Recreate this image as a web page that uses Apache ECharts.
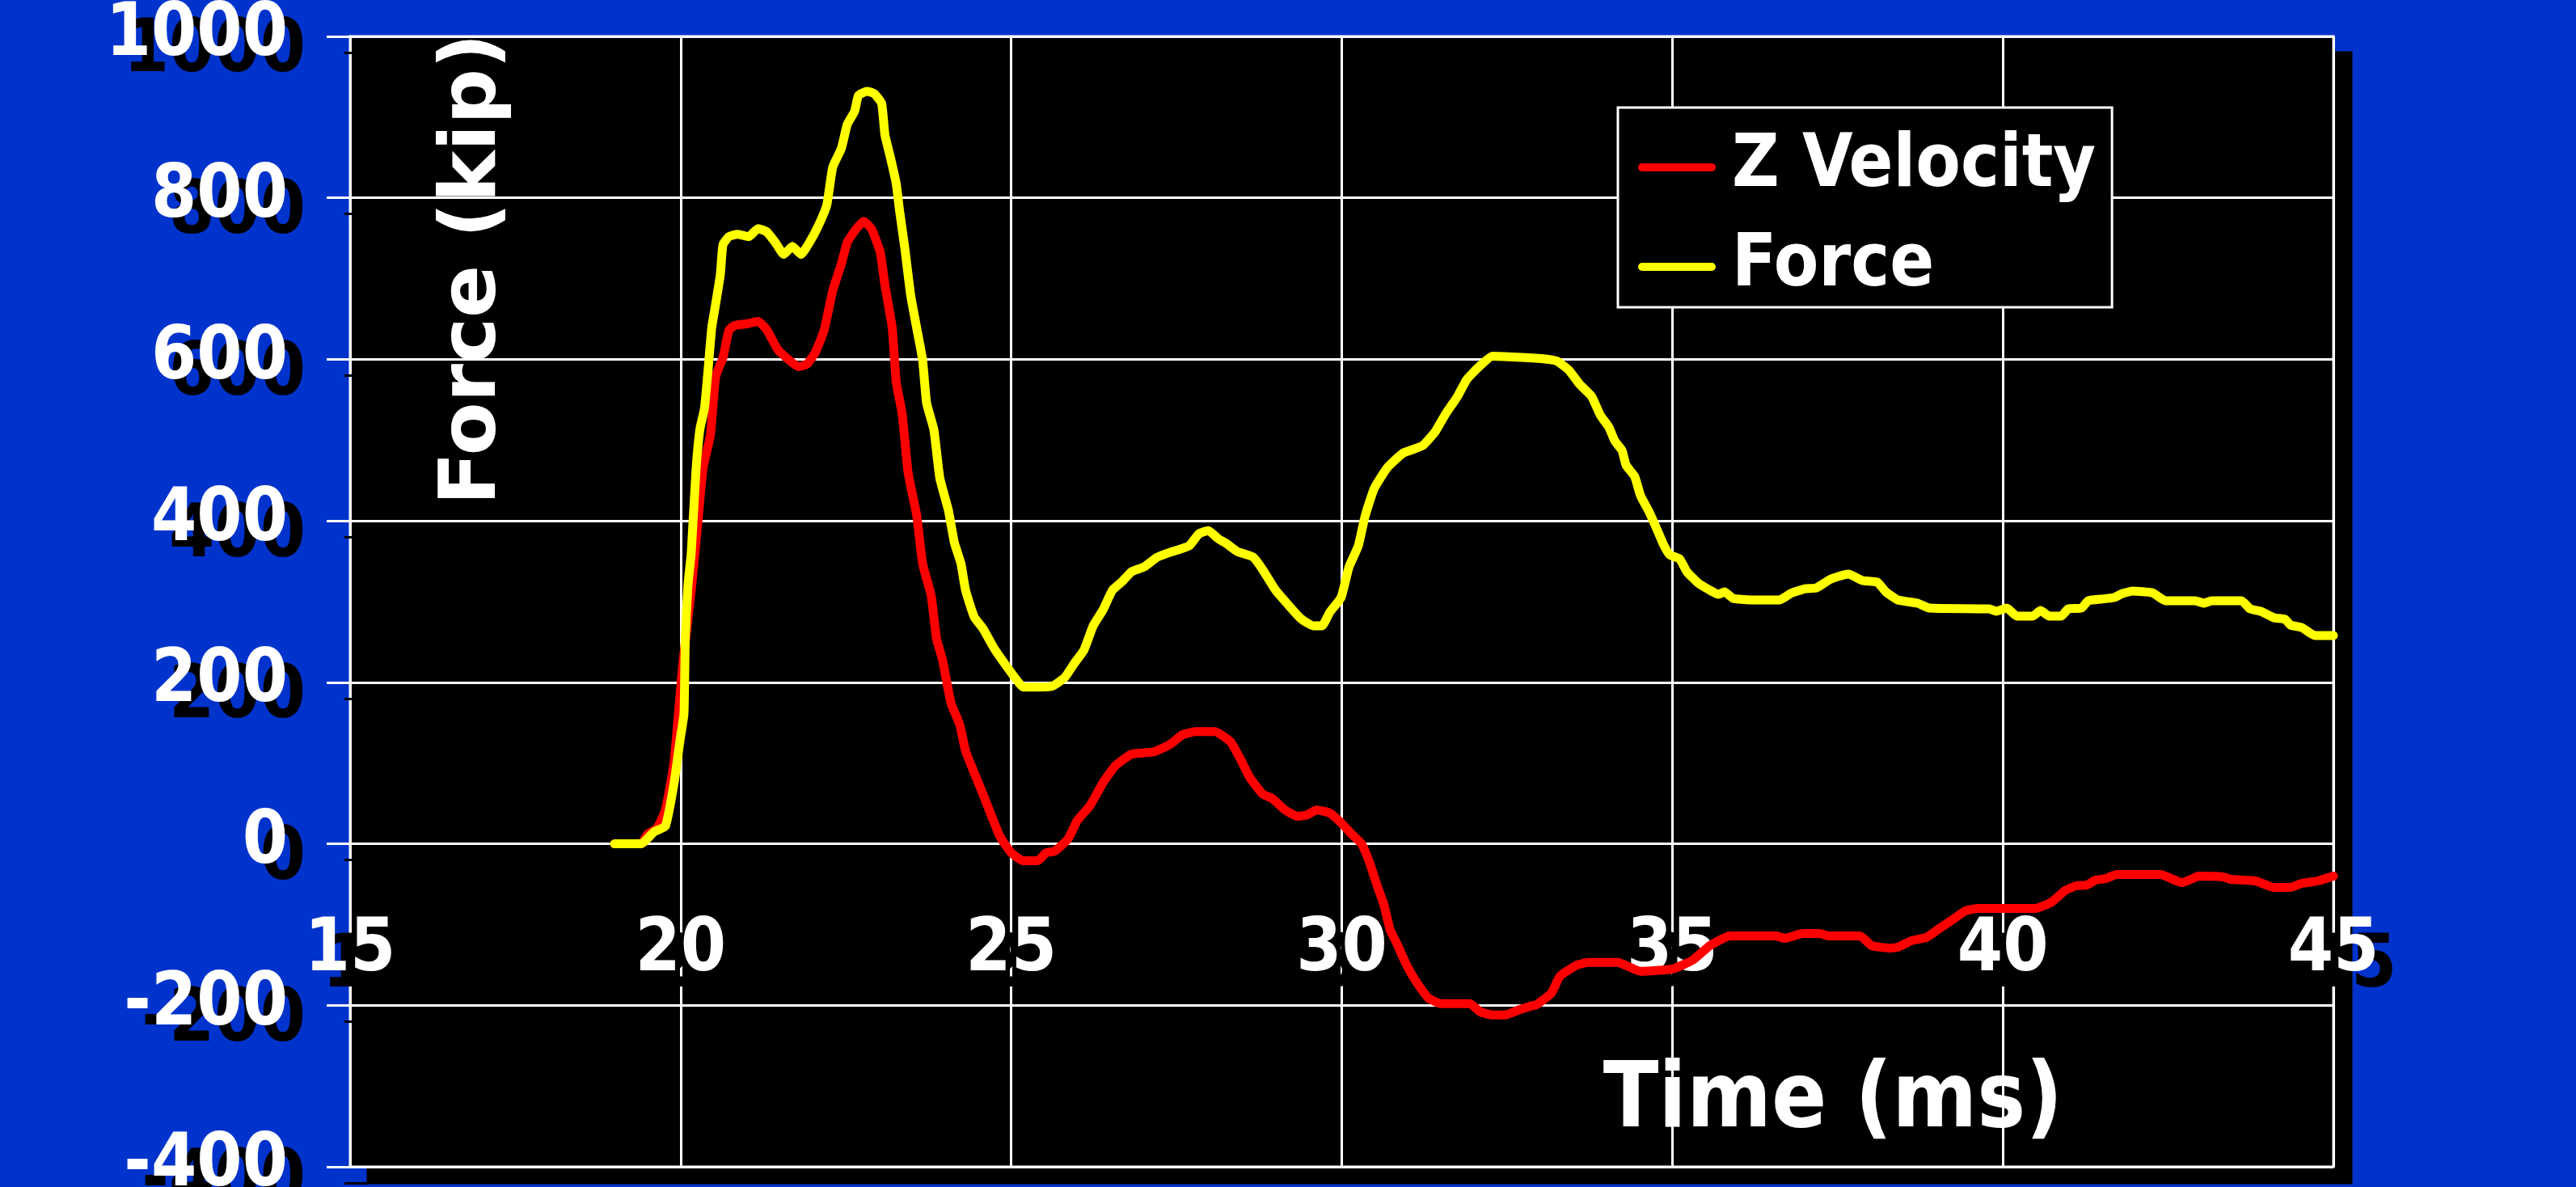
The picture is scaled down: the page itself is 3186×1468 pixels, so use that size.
<!DOCTYPE html>
<html>
<head>
<meta charset="utf-8">
<title>Force and Z Velocity vs Time</title>
<script src="https://cdn.jsdelivr.net/npm/echarts@6.0.0/dist/echarts.min.js"></script>
<style>
  html, body { margin: 0; padding: 0; background: #0033cc; }
  #main { width: 3186px; height: 1468px; }
</style>
</head>
<body>
<div id="main"></div>
<script>
// values: time in ms, value in kip
var velTime = [19.0, 19.4, 19.5, 19.64, 19.77, 19.9, 20.03, 20.16, 20.27, 20.34, 20.45, 20.53, 20.64, 20.73, 20.82, 20.99,
    21.17, 21.3, 21.47, 21.6, 21.78, 21.91, 22.04, 22.17, 22.3, 22.43, 22.52, 22.65, 22.77, 22.89, 23.02, 23.09,
    23.2, 23.26, 23.35, 23.44, 23.57, 23.66, 23.79, 23.87, 23.96, 24.09, 24.22, 24.31, 24.44, 24.57, 24.7, 24.83,
    25.0, 25.18, 25.4, 25.53, 25.66, 25.86, 26.0, 26.19, 26.39, 26.58, 26.82, 27.16, 27.4, 27.59, 27.79, 28.08,
    28.32, 28.46, 28.61, 28.8, 28.95, 29.14, 29.33, 29.48, 29.62, 29.82, 29.99, 30.15, 30.3, 30.42, 30.54, 30.64,
    30.73, 30.83, 30.98, 31.12, 31.31, 31.51, 31.94, 32.09, 32.28, 32.47, 32.67, 32.86, 32.95, 33.17, 33.3, 33.56,
    33.73, 34.17, 34.52, 35.0, 35.31, 35.57, 35.87, 36.57, 36.7, 36.97, 37.23, 37.36, 37.84, 38.01, 38.28, 38.41,
    38.62, 38.84, 39.02, 39.24, 39.43, 39.63, 40.49, 40.74, 40.94, 41.11, 41.27, 41.4, 41.56, 41.72, 42.38, 42.71,
    42.87, 42.96, 43.33, 43.45, 43.82, 44.1, 44.35, 44.52, 44.76, 45.0];
var velValues = [0, 0, 12, 19, 42, 101, 221, 314, 407, 466, 506, 579, 602, 636, 642, 644,
    647, 637, 612, 602, 591, 594, 609, 636, 685, 718, 745, 761, 771, 761, 732, 692,
    639, 572, 533, 460, 407, 347, 307, 254, 228, 174, 148, 115, 88, 62, 35, 9,
    -11, -21, -21, -11, -9, 6, 29, 47, 76, 97, 111, 114, 123, 135, 139, 139,
    126, 106, 82, 62, 56, 42, 34, 36, 42, 38, 26, 12, 0, -23, -53, -76,
    -106, -123, -150, -170, -191, -198, -198, -208, -212, -212, -206, -201, -199, -185, -164, -150,
    -147, -147, -158, -155, -144, -126, -114, -114, -117, -111, -111, -114, -114, -126, -129, -128,
    -120, -116, -106, -94, -83, -80, -80, -72, -58, -52, -51, -45, -43, -38, -38, -48,
    -43, -40, -41, -44, -46, -54, -54, -49, -46, -40];

var forceTime = [19.0, 19.4, 19.6, 19.77, 19.9, 19.99, 20.05, 20.07, 20.11, 20.16, 20.23, 20.29, 20.36, 20.42, 20.47, 20.51,
    20.6, 20.64, 20.73, 20.86, 21.03, 21.17, 21.3, 21.43, 21.56, 21.69, 21.82, 21.95, 22.08, 22.21, 22.3, 22.43,
    22.52, 22.63, 22.69, 22.82, 22.93, 23.04, 23.09, 23.17, 23.26, 23.31, 23.39, 23.48, 23.57, 23.66, 23.72, 23.83,
    23.92, 24.05, 24.14, 24.24, 24.31, 24.44, 24.57, 24.75, 24.92, 25.1, 25.18, 25.61, 25.81, 25.95, 26.1, 26.24,
    26.39, 26.53, 26.68, 26.82, 27.01, 27.21, 27.4, 27.69, 27.84, 27.98, 28.13, 28.27, 28.42, 28.66, 28.8, 29.0,
    29.19, 29.38, 29.57, 29.7, 29.82, 29.99, 30.11, 30.25, 30.35, 30.49, 30.69, 30.93, 31.22, 31.41, 31.56, 31.75,
    31.89, 32.09, 32.28, 33.03, 33.25, 33.43, 33.6, 33.78, 33.91, 34.04, 34.13, 34.24, 34.3, 34.43, 34.52, 34.65,
    34.78, 34.87, 34.96, 35.11, 35.22, 35.39, 35.57, 35.7, 35.79, 35.92, 36.18, 36.62, 36.79, 37.01, 37.18, 37.4,
    37.66, 37.88, 38.1, 38.23, 38.41, 38.71, 38.89, 39.79, 39.9, 40.06, 40.21, 40.45, 40.57, 40.7, 40.88, 40.99,
    41.19, 41.29, 41.48, 41.68, 41.81, 41.97, 42.26, 42.46, 42.91, 43.04, 43.16, 43.61, 43.74, 43.9, 44.1, 44.27,
    44.35, 44.52, 44.72, 45.0];
var forceValues = [0, 0, 15, 22, 75, 128, 161, 254, 320, 360, 460, 513, 539, 592, 639, 659,
    705, 742, 752, 755, 752, 762, 758, 745, 730, 740, 730, 745, 765, 791, 838, 861,
    891, 907, 927, 932, 929, 917, 878, 851, 818, 785, 738, 679, 639, 599, 546, 513,
    453, 413, 373, 347, 314, 281, 267, 241, 221, 201, 194, 195, 206, 223, 240, 270,
    290, 314, 325, 337, 343, 355, 361, 369, 384, 388, 378, 371, 362, 355, 340, 314,
    296, 279, 270, 270, 287, 305, 343, 369, 405, 440, 466, 484, 493, 510, 531, 554,
    575, 592, 604, 601, 598, 587, 569, 554, 531, 516, 499, 487, 469, 455, 431, 411,
    387, 370, 358, 353, 337, 323, 314, 309, 312, 304, 302, 302, 310, 316, 317, 328,
    334, 326, 324, 312, 302, 298, 292, 291, 288, 292, 282, 282, 289, 282, 282, 291,
    292, 301, 303, 305, 310, 313, 311, 301, 301, 298, 301, 301, 291, 288, 280, 278,
    271, 268, 258, 258];

var xTicks = [15, 20, 25, 30, 35, 40, 45];
var yTicks = [-400, -200, 0, 200, 400, 600, 800, 1000];
var seriesNames = ['Z Velocity', 'Force'];

var condensed = "'DejaVu Sans Condensed', 'DejaVu Sans', sans-serif";

// plot box in pixels
var plotLeft = 433, plotTop = 45, plotWidth = 2453, plotHeight = 1398;

function pairs(xs, ys) {
    return xs.map(function (x, i) { return [x, ys[i]]; });
}

// dark copy of the label shifted down-right, like the slide's text shadow
var textShadow = {
    textShadowColor: '#000',
    textShadowBlur: 0.5,
    textShadowOffsetX: 22,
    textShadowOffsetY: 20
};

var yMin = yTicks[0], yMax = yTicks[yTicks.length - 1];
// time axis sits on the zero line: move it up from the grid bottom
var zeroOffset = -plotHeight * (0 - yMin) / (yMax - yMin);

var myChart = echarts.init(document.getElementById('main'));
var option = {
    backgroundColor: '#0033cc',
    animation: false,
    grid: {
        left: plotLeft, top: plotTop, width: plotWidth, height: plotHeight,
        containLabel: false,
        outerBoundsMode: 'none',
        show: true,
        backgroundColor: '#000',
        borderColor: '#fff',
        borderWidth: 3,
        shadowColor: '#000',
        shadowBlur: 0.5,
        shadowOffsetX: 22,
        shadowOffsetY: 20
    },
    legend: {
        data: seriesNames,
        orient: 'vertical',
        left: 2001,
        top: 133,
        padding: [24, 20, 0, 25],
        itemGap: 23,
        itemWidth: 96,
        itemHeight: 10,
        icon: 'path://M5,0H91A5,5,0,0,1,91,10H5A5,5,0,0,1,5,0Z',
        backgroundColor: '#000',
        borderColor: '#fff',
        borderWidth: 3,
        textStyle: {
            color: '#fff',
            fontFamily: condensed,
            fontWeight: 'bold',
            fontSize: 90,
            lineHeight: 100,
            padding: [0, 0, 0, 15]
        }
    },
    xAxis: {
        type: 'value',
        min: xTicks[0],
        max: xTicks[xTicks.length - 1],
        interval: xTicks[1] - xTicks[0],
        offset: zeroOffset,
        axisLine: { show: true, onZero: false, lineStyle: { color: '#fff', width: 3 } },
        axisTick: { show: false },
        splitLine: { show: true, lineStyle: { color: '#fff', width: 3 } },
        axisLabel: Object.assign({
            color: '#fff',
            fontFamily: condensed,
            fontWeight: 'bold',
            fontSize: 90,
            margin: 88,
            showMinLabel: true,
            showMaxLabel: true,
            hideOverlap: false,
            formatter: function (v) { return String(v); }
        }, textShadow)
    },
    yAxis: {
        type: 'value',
        min: yMin,
        max: yMax,
        interval: yTicks[1] - yTicks[0],
        axisLine: { show: true, lineStyle: { color: '#fff', width: 3 } },
        axisTick: {
            show: true,
            inside: false,
            length: 29,
            lineStyle: {
                color: '#fff', width: 3,
                shadowColor: '#000', shadowBlur: 0.5, shadowOffsetX: 22, shadowOffsetY: 20
            }
        },
        splitLine: { show: true, lineStyle: { color: '#fff', width: 3 } },
        axisLabel: Object.assign({
            color: '#fff',
            fontFamily: condensed,
            fontWeight: 'bold',
            fontSize: 90,
            margin: 77,
            showMinLabel: true,
            showMaxLabel: true,
            hideOverlap: false,
            formatter: function (v) { return String(v); }
        }, textShadow)
    },
    series: [
        {
            name: seriesNames[0],
            type: 'line',
            data: pairs(velTime, velValues),
            symbol: 'none',
            smooth: 0.15,
            clip: false,
            color: '#ff0000',
            lineStyle: { color: '#ff0000', width: 11, cap: 'round', join: 'round' }
        },
        {
            name: seriesNames[1],
            type: 'line',
            data: pairs(forceTime, forceValues),
            symbol: 'none',
            smooth: 0.15,
            clip: false,
            color: '#ffff00',
            lineStyle: { color: '#ffff00', width: 11, cap: 'round', join: 'round' }
        }
    ],
    graphic: [
        {
            type: 'text',
            x: 587,
            y: 333,
            rotation: Math.PI / 2,
            z: 100,
            style: {
                text: 'Force (kip)',
                fill: '#fff',
                font: "bold 96px 'DejaVu Sans', sans-serif",
                align: 'center',
                verticalAlign: 'middle'
            }
        },
        {
            type: 'text',
            x: 2267,
            y: 1364,
            z: 100,
            style: {
                text: 'Time (ms)',
                fill: '#fff',
                font: "bold 112px " + condensed,
                align: 'center',
                verticalAlign: 'middle'
            }
        }
    ]
};
myChart.setOption(option);
</script>
</body>
</html>
